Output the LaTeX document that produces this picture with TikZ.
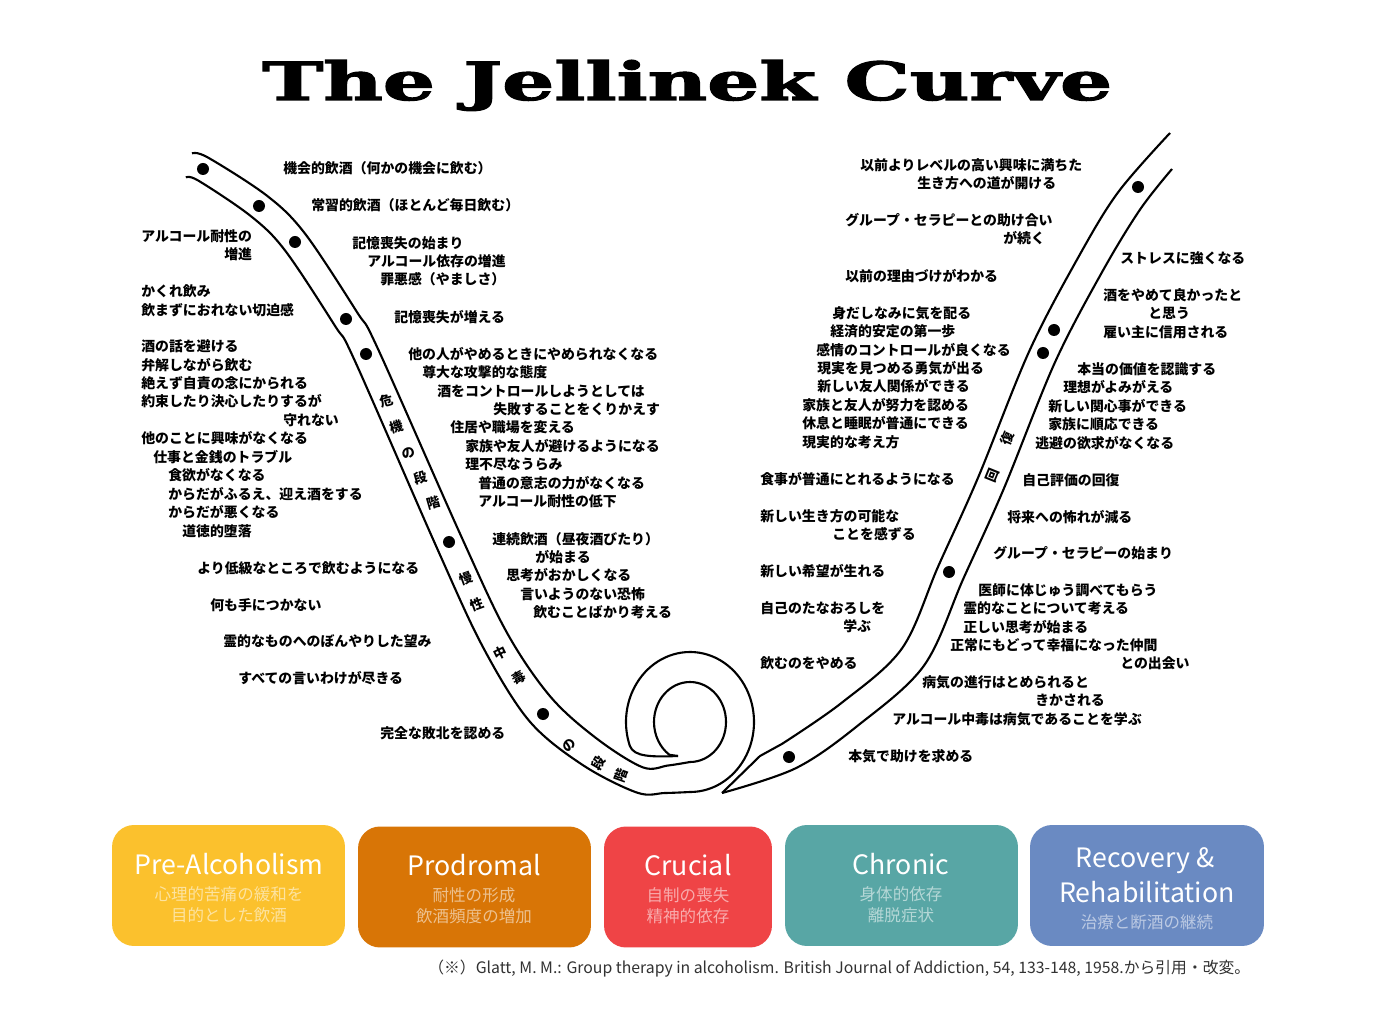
\documentclass[tikz,border=0pt]{standalone}
\usepackage{graphicx}
\usepackage{fontspec}
\newfontfamily\jp{Noto Sans CJK JP}
\newfontfamily\titlefont{DejaVu Serif}[BoldFeatures={FakeBold=2}]
\definecolor{cPre}{RGB}{251,193,45}
\definecolor{cPro}{RGB}{216,117,6}
\definecolor{cCru}{RGB}{239,68,70}
\definecolor{cChr}{RGB}{88,166,165}
\definecolor{cRec}{RGB}{106,138,194}
\definecolor{footgray}{RGB}{50,50,50}
\tikzset{
  bandline/.style={line width=1.2pt, line join=round},
  txt/.style={anchor=west, inner sep=0pt, font=\jp\bfseries\fontsize{7.9}{9}\selectfont},
  bch/.style={inner sep=0pt, font=\jp\bfseries\fontsize{7.6}{9}\selectfont},
  stage/.style={rounded corners=0.44cm, minimum width=4.66cm, minimum height=2.42cm, inner sep=0pt},
  stitle/.style={anchor=base, inner sep=0pt, text=white, font=\jp\fontsize{15.2}{17}\selectfont},
  ssub/.style={inner sep=0pt, font=\jp\fontsize{9.4}{11}\selectfont},
}
\begin{document}
\begin{tikzpicture}[x=0.02cm, y=0.02cm]
\useasboundingbox (0,0) rectangle (1376,-1033);
\fill[white] (0,0) rectangle (1376,-1033);

% title
\node[anchor=base west, inner sep=0pt] (title) at (262,-100) {\resizebox{17cm}{0.8cm}{\titlefont\bfseries The Jellinek Curve}};

% left band (upper / inner line) with inner spiral
\draw[bandline] plot[smooth, tension=0.55] coordinates {(192.0,-153.4) (207.7,-157.4) (267.2,-195.9) (305,-233.6) (357,-312.1) (377.5,-347.9) (461.2,-536.3) (507.1,-633) (550.7,-697) (597,-738.8) (642.7,-767.3) (668,-765.5) (690,-762)} arc[start angle=-90, end angle=235, x radius=36, y radius=40] -- (678,-756);
% left band (lower / outer line) with outer spiral
\draw[bandline] plot[smooth, tension=0.55] coordinates {(186.0,-177.6) (198.3,-180.6) (250.8,-216.1) (285,-250.4) (335,-325.9) (354.5,-360.1) (436.8,-547.7) (482.9,-647) (529.3,-721) (583,-765.2) (637.3,-792.7) (665,-793) (690,-792)} arc[start angle=-90, end angle=200, x radius=64, y radius=70] .. controls (634,-757) and (652,-757) .. (678,-756);

% right band
\draw[bandline] (722,-793) -- (760,-756) -- plot[smooth, tension=0.55] coordinates {(782,-743.9) (841.8,-702.7) (902,-648.4) (938.4,-565.9) (978.2,-477.3) (1029.2,-351.3) (1077.9,-258) (1118,-192.4) (1170,-133)};
\draw[bandline] plot[smooth, tension=0.55] coordinates {(722,-793) (796,-768.1) (858.2,-725.3) (924,-665.6) (963.6,-578.1) (1003.8,-488.7) (1054.8,-362.7) (1102.1,-272) (1140,-209.6) (1172,-169)};

% dots
\foreach \p in {(203,-169),(259,-206),(295,-242),(346,-319),(366,-354),(449,-542),(543,-714),(1138,-187),(1054,-330),(1043,-353),(949,-572),(789,-757)}
  \fill \p circle[radius=6];

% band labels
\node[bch, rotate=16] (b1) at (387,-401) {危};
\node[bch, rotate=16] (b2) at (397,-427) {機};
\node[bch, rotate=16] (b3) at (409,-453) {の};
\node[bch, rotate=16] (b4) at (421,-478) {段};
\node[bch, rotate=16] (b5) at (434,-503) {階};
\node[bch, rotate=20] (b6) at (466,-578) {慢};
\node[bch, rotate=20] (b7) at (477,-604) {性};
\node[bch, rotate=26] (b8) at (500,-653) {中};
\node[bch, rotate=30] (b9) at (519,-678) {毒};
\node[bch, rotate=50] (b10) at (569,-745) {の};
\node[bch, rotate=60] (b11) at (598,-763) {段};
\node[bch, rotate=70] (b12) at (621,-776) {階};
\node[bch, rotate=68] (b13) at (992,-475) {回};
\node[bch, rotate=68] (b14) at (1007,-438) {復};

% left column texts
\node[txt] (l1) at (141,-236) {アルコール耐性の};
\node[txt] (l2) at (224,-254) {増進};
\node[txt] (l3) at (141,-291) {かくれ飲み};
\node[txt] (l4) at (141,-310) {飲まずにおれない切迫感};
\node[txt] (l5) at (141,-346) {酒の話を避ける};
\node[txt] (l6) at (141,-365) {弁解しながら飲む};
\node[txt] (l7) at (141,-383) {絶えず自責の念にかられる};
\node[txt] (l8) at (141,-401) {約束したり決心したりするが};
\node[txt] (l9) at (283,-420) {守れない};
\node[txt] (l10) at (141,-438) {他のことに興味がなくなる};
\node[txt] (l11) at (153,-457) {仕事と金銭のトラブル};
\node[txt] (l12) at (168,-475) {食欲がなくなる};
\node[txt] (l13) at (168,-494) {からだがふるえ、迎え酒をする};
\node[txt] (l14) at (168,-512) {からだが悪くなる};
\node[txt] (l15) at (182,-531) {道徳的堕落};
\node[txt] (l16) at (197,-568) {より低級なところで飲むようになる};
\node[txt] (l17) at (210,-605) {何も手につかない};
\node[txt] (l18) at (223,-641) {霊的なものへのぼんやりした望み};
\node[txt] (l19) at (238,-678) {すべての言いわけが尽きる};
\node[txt] (l20) at (380,-733) {完全な敗北を認める};

% texts right of left band
\node[txt] (m1) at (283,-168) {機会的飲酒（何かの機会に飲む）};
\node[txt] (m2) at (311,-205) {常習的飲酒（ほとんど毎日飲む）};
\node[txt] (m3) at (352,-243) {記憶喪失の始まり};
\node[txt] (m4) at (367,-261) {アルコール依存の増進};
\node[txt] (m5) at (380,-279) {罪悪感（やましさ）};
\node[txt] (m6) at (394,-317) {記憶喪失が増える};
\node[txt] (m7) at (408,-354) {他の人がやめるときにやめられなくなる};
\node[txt] (m8) at (422,-372) {尊大な攻撃的な態度};
\node[txt] (m9) at (437,-391) {酒をコントロールしようとしては};
\node[txt] (m10) at (493,-409) {失敗することをくりかえす};
\node[txt] (m11) at (450,-427) {住居や職場を変える};
\node[txt] (m12) at (465,-446) {家族や友人が避けるようになる};
\node[txt] (m13) at (465,-464) {理不尽なうらみ};
\node[txt] (m14) at (478,-483) {普通の意志の力がなくなる};
\node[txt] (m15) at (478,-501) {アルコール耐性の低下};
\node[txt] (m16) at (492,-539) {連続飲酒（昼夜酒びたり）};
\node[txt] (m17) at (535,-557) {が始まる};
\node[txt] (m18) at (506,-575) {思考がおかしくなる};
\node[txt] (m19) at (520,-594) {言いようのない恐怖};
\node[txt] (m20) at (533,-612) {飲むことばかり考える};

% texts left of right band
\node[txt] (r1) at (860,-165) {以前よりレベルの高い興味に満ちた};
\node[txt] (r2) at (917,-183) {生き方への道が開ける};
\node[txt] (r3) at (845,-220) {グループ・セラピーとの助け合い};
\node[txt] (r4) at (1003,-238) {が続く};
\node[txt] (r5) at (845,-276) {以前の理由づけがわかる};
\node[txt] (r6) at (832,-313) {身だしなみに気を配る};
\node[txt] (r7) at (830,-331) {経済的安定の第一歩};
\node[txt] (r8) at (816,-350) {感情のコントロールが良くなる};
\node[txt] (r9) at (817,-368) {現実を見つめる勇気が出る};
\node[txt] (r10) at (817,-386) {新しい友人関係ができる};
\node[txt] (r11) at (802,-405) {家族と友人が努力を認める};
\node[txt] (r12) at (802,-423) {休息と睡眠が普通にできる};
\node[txt] (r13) at (802,-442) {現実的な考え方};
\node[txt] (r14) at (760,-479) {食事が普通にとれるようになる};
\node[txt] (r15) at (760,-516) {新しい生き方の可能な};
\node[txt] (r16) at (832,-534) {ことを感ずる};
\node[txt] (r17) at (760,-571) {新しい希望が生れる};
\node[txt] (r18) at (760,-608) {自己のたなおろしを};
\node[txt] (r19) at (843,-626) {学ぶ};
\node[txt] (r20) at (760,-663) {飲むのをやめる};

% texts right of right band
\node[txt] (s1) at (1120,-258) {ストレスに強くなる};
\node[txt] (s2) at (1103,-295) {酒をやめて良かったと};
\node[txt] (s3) at (1148,-313) {と思う};
\node[txt] (s4) at (1103,-332) {雇い主に信用される};
\node[txt] (s5) at (1077,-369) {本当の価値を認識する};
\node[txt] (s6) at (1063,-387) {理想がよみがえる};
\node[txt] (s7) at (1048,-406) {新しい関心事ができる};
\node[txt] (s8) at (1048,-424) {家族に順応できる};
\node[txt] (s9) at (1035,-443) {逃避の欲求がなくなる};
\node[txt] (s10) at (1022,-480) {自己評価の回復};
\node[txt] (s11) at (1007,-517) {将来への怖れが減る};
\node[txt] (s12) at (993,-553) {グループ・セラピーの始まり};
\node[txt] (s13) at (978,-590) {医師に体じゅう調べてもらう};
\node[txt] (s14) at (963,-608) {霊的なことについて考える};
\node[txt] (s15) at (963,-627) {正しい思考が始まる};
\node[txt] (s16) at (950,-645) {正常にもどって幸福になった仲間};
\node[txt] (s17) at (1120,-663) {との出会い};
\node[txt] (s18) at (922,-682) {病気の進行はとめられると};
\node[txt] (s19) at (1035,-700) {きかされる};
\node[txt] (s20) at (892,-719) {アルコール中毒は病気であることを学ぶ};
\node[txt] (s21) at (848,-756) {本気で助けを求める};

% stage boxes
\node[stage, fill=cPre] (pre) at (228.5,-885.5) {};
\node[stage, fill=cPro] (pro) at (474.5,-887) {};
\node[stage, fill=cCru, minimum width=3.36cm] (cru) at (688,-887) {};
\node[stage, fill=cChr] (chr) at (901.5,-885.5) {};
\node[stage, fill=cRec, minimum width=4.68cm] (rec) at (1147,-885.5) {};

\node[stitle] (preT) at (229,-874) {Pre-Alcoholism};
\node[ssub, text=white!55!cPre] (preA) at (229,-894) {心理的苦痛の緩和を};
\node[ssub, text=white!55!cPre] (preB) at (229,-915) {目的とした飲酒};
\node[stitle] (proT) at (474,-875) {Prodromal};
\node[ssub, text=white!55!cPro] (proA) at (474,-895) {耐性の形成};
\node[ssub, text=white!55!cPro] (proB) at (474,-916) {飲酒頻度の増加};
\node[stitle] (cruT) at (688,-875) {Crucial};
\node[ssub, text=white!55!cCru] (cruA) at (688,-895) {自制の喪失};
\node[ssub, text=white!55!cCru] (cruB) at (688,-916) {精神的依存};
\node[stitle] (chrT) at (901,-874) {Chronic};
\node[ssub, text=white!55!cChr] (chrA) at (901,-894) {身体的依存};
\node[ssub, text=white!55!cChr] (chrB) at (901,-915) {離脱症状};
\node[stitle] (recT) at (1145,-867) {Recovery \&};
\node[stitle] (recU) at (1147,-902) {Rehabilitation};
\node[ssub, text=white!55!cRec] (recA) at (1147,-922) {治療と断酒の継続};

% footnote
\node[anchor=west, inner sep=0pt] (foot) at (428,-969) {\resizebox{16.44cm}{!}{\jp\fontsize{9}{10}\selectfont\color{footgray}（※）Glatt, M. M.: Group therapy in alcoholism. British Journal of Addiction, 54, 133-148, 1958.から引用・改変。}};
\end{tikzpicture}
\end{document}
